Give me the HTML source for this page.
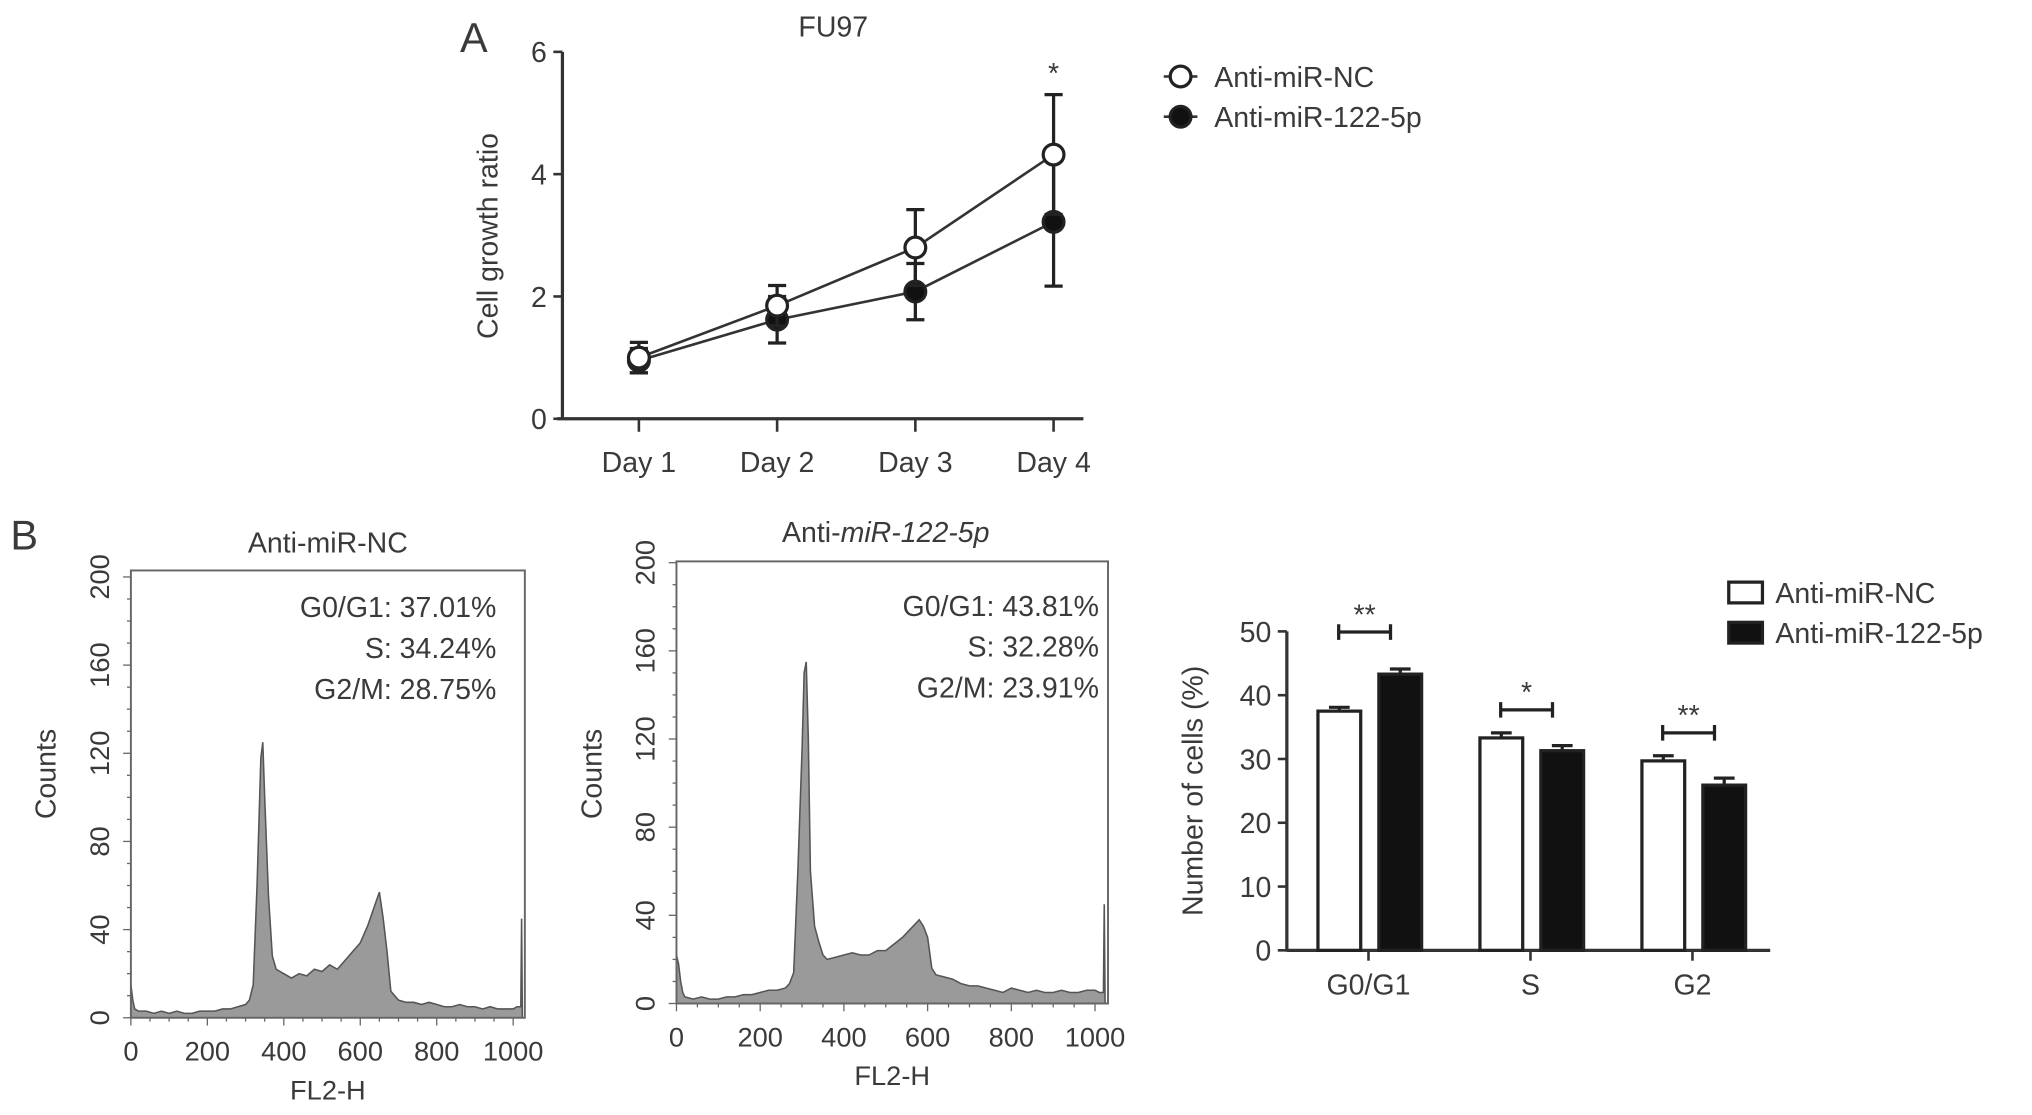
<!DOCTYPE html>
<html><head><meta charset="utf-8"><style>
html,body{margin:0;padding:0;background:#fff;}
svg{display:block;}
text{font-family:"Liberation Sans",sans-serif;fill:#3a3a3a;}
</style></head><body>
<svg id="fig" width="2032" height="1115" viewBox="0 0 1568 860" preserveAspectRatio="none" xmlns="http://www.w3.org/2000/svg">
<g id="panelA"></g>
<g id="h1"></g>
<g id="h2"></g>
<g id="bars"></g>
</svg>
<script>
// ---- Panel A data ----
const days = ["Day 1","Day 2","Day 3","Day 4"];
const ncMean = [1.0, 1.85, 2.8, 4.32];
const ncErr = [0.25, 0.33, 0.62, 0.98];
const kdMean = [0.95, 1.62, 2.08, 3.22];
const kdErr = [0.2, 0.38, 0.46, 1.05];
const aTicks = [0,2,4,6];
// ---- Histogram data ----
const h1X = [0,5,10,20,40,60,80,100,120,140,160,180,200,220,240,260,280,300,310,320,330,340,345,350,360,370,380,400,420,440,460,480,500,520,540,560,580,600,620,640,650,660,670,680,700,720,740,760,780,800,820,840,860,880,900,920,940,960,980,1000,1010,1020,1022,1024];
const h1Y = [15,8,4,3,3,2,3,2,3,2,2,3,3,3,4,4,5,6,8,15,60,118,125,100,55,28,22,20,18,20,19,22,21,24,22,26,30,34,42,52,57,45,30,12,8,7,7,6,7,6,5,5,6,5,5,4,5,4,4,4,5,5,45,0];
const h2X = [0,5,10,15,20,40,60,80,100,120,140,160,180,200,220,240,260,270,280,290,300,305,310,315,320,330,340,350,360,380,400,420,440,460,480,500,520,540,560,570,580,590,600,610,620,640,660,680,700,720,740,760,780,800,820,840,860,880,900,920,940,960,980,1000,1010,1020,1022,1024];
const h2Y = [22,18,10,5,3,2,3,2,2,3,3,4,4,5,6,6,7,9,14,60,115,150,155,120,60,35,28,22,20,21,22,23,22,22,24,24,27,30,34,36,38,35,30,16,13,12,11,9,8,8,7,6,5,7,6,5,6,5,5,6,5,5,6,6,5,5,45,0];
const hTicks = [0,40,80,120,160,200];
const hXTicks = [0,200,400,600,800,1000];
// ---- Bar chart data ----
const phases = ["G0/G1","S","G2"];
const barNC = [37.5, 33.3, 29.7];
const barNCErr = [0.6, 0.8, 0.8];
const barKD = [43.3, 31.3, 25.9];
const barKDErr = [0.8, 0.8, 1.1];
const sigLabels = ["**","*","**"];
const bTicks = [0,10,20,30,40,50];

const NS="http://www.w3.org/2000/svg";
function mk(parent,tag,attrs,txt){const e=document.createElementNS(NS,tag);for(const k in attrs)e.setAttribute(k,attrs[k]);if(txt!==undefined)e.textContent=txt;parent.appendChild(e);return e;}

// ===== Panel A =====
(function(){
const g=document.getElementById('panelA');
const x0=434,xR=836,y0=323,yT=40;
const ys=v=>y0-(v/6)*(y0-yT);
const dayX=[493,600,706,813];
const xs=i=>dayX[0]+i*(dayX[3]-dayX[0])/(days.length-1);
let t=mk(g,'text',{x:355,y:40,'font-size':32});t.textContent='A';


t=mk(g,'text',{x:643,y:28,'font-size':22,'text-anchor':'middle'},'FU97');


let ax=mk(g,'path',{d:`M${x0},${yT} V${y0+1} M${x0-4},${y0} H${xR}`,stroke:'#333','stroke-width':2.5,fill:'none'});


aTicks.forEach(v=>{
 mk(g,'line',{x1:x0-7,x2:x0,y1:ys(v),y2:ys(v),stroke:'#333','stroke-width':2});
 const l=mk(g,'text',{x:x0-12,y:ys(v)+8,'font-size':22,'text-anchor':'end'},String(v));
 
 
});
days.forEach((d,i)=>{
 mk(g,'line',{x1:xs(i),x2:xs(i),y1:y0,y2:y0+10,stroke:'#333','stroke-width':2});
 const l=mk(g,'text',{x:xs(i),y:364,'font-size':22,'text-anchor':'middle'},d);
 
 
});
t=mk(g,'text',{x:0,y:0,'font-size':22,'text-anchor':'middle',transform:'translate(384,182) rotate(-90)'},'Cell growth ratio');


function series(mean,err,filled,name){
 const sg=mk(g,'g',{});
 
 
 mk(sg,'polyline',{points:mean.map((v,i)=>xs(i)+','+ys(v)).join(' '),fill:'none',stroke:'#333','stroke-width':2});
 mean.forEach((v,i)=>{
  const x=xs(i),a=ys(v+err[i]),b=ys(v-err[i]);
  mk(sg,'path',{d:`M${x},${a} V${b} M${x-7},${a} H${x+7} M${x-7},${b} H${x+7}`,stroke:'#222','stroke-width':2.5,fill:'none'});
  const c=mk(sg,'circle',{cx:x,cy:ys(v),r:8,fill:filled?'#111':'#fff',stroke:'#222','stroke-width':2.5});
  
  
 });
}
series(kdMean,kdErr,true,'series-anti-mir-122-5p');
series(ncMean,ncErr,false,'series-anti-mir-nc');
t=mk(g,'text',{x:813,y:64,'font-size':22,'text-anchor':'middle'},'*');


[['Anti-miR-NC',false,59],['Anti-miR-122-5p',true,90]].forEach(([lab,f,y])=>{
 const lg=mk(g,'g',{});
 
 
 mk(lg,'line',{x1:898,x2:924,y1:y,y2:y,stroke:'#333','stroke-width':2});
 mk(lg,'circle',{cx:911,cy:y,r:8,fill:f?'#111':'#fff',stroke:'#222','stroke-width':2.5});
 mk(lg,'text',{x:937,y:y+8,'font-size':22},lab);
});
})();

// ===== Histograms =====
function hist(id,L,R,T,B,xMaxPx,X,Y,title,italic,ann,annX,annY,tickY,titleY){
 const g=document.getElementById(id);
 const xs=v=>L+(v/1000)*(xMaxPx-L);
 const ys=v=>B-v*(B-tickY)/200;
 let pts=X.map((x,i)=>`${Math.min(xs(x),R)},${ys(Y[i])}`);
 const a=mk(g,'path',{d:`M${xs(X[0])},${B} L${pts.join(' L')} L${R},${B} Z`,fill:'#9a9a9a',stroke:'#555','stroke-width':1.2});
 
 
 const f=mk(g,'rect',{x:L,y:T,width:R-L,height:B-T,fill:'none',stroke:'#666','stroke-width':1.5});
 
 
 for(let v=0;v<=200;v+=10){mk(g,'line',{x1:L-(v%40==0?6:3),x2:L,y1:ys(v),y2:ys(v),stroke:'#666','stroke-width':1});}
 hTicks.forEach(v=>{
  const l=mk(g,'text',{x:0,y:0,'font-size':21,'text-anchor':'middle',transform:`translate(${L-17},${ys(v)}) rotate(-90)`},String(v));
  
  
 });
 for(let v=0;v<=1000;v+=50){mk(g,'line',{x1:xs(v),x2:xs(v),y1:B,y2:B+(v%200==0?6:3),stroke:'#666','stroke-width':1});}
 hXTicks.forEach(v=>{
  const l=mk(g,'text',{x:xs(v),y:B+33,'font-size':21,'text-anchor':'middle'},String(v));
  
  
 });
 let t=mk(g,'text',{x:(L+R)/2,y:B+63,'font-size':21,'text-anchor':'middle'},'FL2-H');
 
 
 t=mk(g,'text',{x:0,y:0,'font-size':22,'text-anchor':'middle',transform:`translate(${L-58},597) rotate(-90)`},'Counts');
 
 
 t=mk(g,'text',{x:(L+R)/2-(italic?5:0),y:titleY,'font-size':22,'text-anchor':'middle'});
 
 
 if(italic){mk(t,'tspan',{},'Anti-');mk(t,'tspan',{'font-style':'italic'},'miR-122-5p');}else t.textContent=title;
 ann.forEach((s,i)=>{
  const l=mk(g,'text',{x:annX,y:annY+i*31.5,'font-size':22,'text-anchor':'end'},s);
  
  
 });
}
hist('h1',101,405,440,785,396,h1X,h1Y,'Anti-miR-NC',false,['G0/G1: 37.01%','S: 34.24%','G2/M: 28.75%'],383,476,445,426);
hist('h2',522,855,433,774,845,h2X,h2Y,'',true,['G0/G1: 43.81%','S: 32.28%','G2/M: 23.91%'],848,475,434,418);

// ===== Bar chart =====
(function(){
const g=document.getElementById('bars');
const x0=993,xR=1366,y0=733,yT=487;
const ys=v=>y0-(v/50)*(y0-yT);
const cx=i=>1056+i*125;
const bw=33;
mk(g,'path',{d:`M${x0},${yT} V${y0+1} M${x0},${y0} H${xR}`,stroke:'#333','stroke-width':2.5,fill:'none'});
bTicks.forEach(v=>{
 mk(g,'line',{x1:x0-7,x2:x0,y1:ys(v),y2:ys(v),stroke:'#333','stroke-width':2});
 const l=mk(g,'text',{x:x0-12,y:ys(v)+8,'font-size':22,'text-anchor':'end'},String(v));
 
 
});
let t=mk(g,'text',{x:0,y:0,'font-size':22,'text-anchor':'middle',transform:'translate(928,610) rotate(-90)'},'Number of cells (%)');


phases.forEach((p,i)=>{
 const c=cx(i);
 mk(g,'line',{x1:c,x2:c,y1:y0,y2:y0+8,stroke:'#333','stroke-width':2});
 const l=mk(g,'text',{x:c,y:767,'font-size':22,'text-anchor':'middle'},p);
 
 
 [[barNC,barNCErr,'#fff',c-39],[barKD,barKDErr,'#111',c+8]].forEach(([arr,err,fill,bx],k)=>{
  const top=ys(arr[i]),et=ys(arr[i]+err[i]);
  mk(g,'path',{d:`M${bx+bw/2},${top} V${et} M${bx+bw/2-8},${et} H${bx+bw/2+8}`,stroke:'#222','stroke-width':2.5,fill:'none'});
  const r=mk(g,'rect',{x:bx,y:top,width:bw,height:y0-top,fill:fill,stroke:'#222','stroke-width':2.5});
  
  
 });
 const sy=ys(Math.max(barNC[i]+barNCErr[i],barKD[i]+barKDErr[i])+(i==0?5.8:3.6));
 const br=mk(g,'path',{d:`M${c-23},${sy-6} V${sy+6} M${c-23},${sy} H${c+17} M${c+17},${sy-6} V${sy+6}`,stroke:'#222','stroke-width':2.5,fill:'none'});
 
 
 const st=mk(g,'text',{x:c-3,y:sy-6,'font-size':22,'text-anchor':'middle'},sigLabels[i]);
 
 
});
[['Anti-miR-NC','#fff',449],['Anti-miR-122-5p','#111',480]].forEach(([lab,f,y])=>{
 const lg=mk(g,'g',{});
 
 
 mk(lg,'rect',{x:1334,y:y,width:26,height:16,fill:f,stroke:'#222','stroke-width':2.5});
 mk(lg,'text',{x:1370,y:y+16,'font-size':22},lab);
});
let B=mk(g,'text',{x:8,y:424,'font-size':32},'B');


})();
</script>
</body></html>
